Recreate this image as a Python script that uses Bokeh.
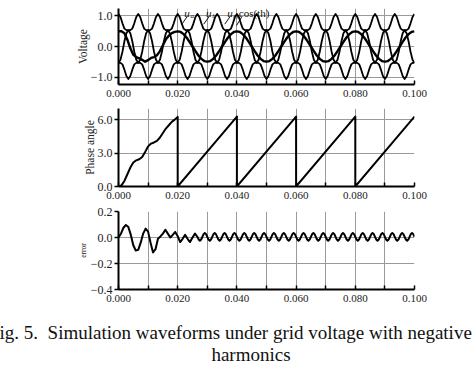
import numpy as np
from bokeh.plotting import figure
from bokeh.models import FixedTicker, Range1d, NumeralTickFormatter, Div, Title
from bokeh.layouts import column
from bokeh.embed import file_html
from bokeh.resources import INLINE
from bokeh.core.properties import value

FONT = "Liberation Serif"

# ---------------- data ----------------
x_major = [0.0, 0.02, 0.04, 0.06, 0.08, 0.10]
x_minor = [0.01, 0.03, 0.05, 0.07, 0.09]

# one period (0.02 s, 30 samples) of the distorted phase voltage u_a
u_period = [1.05, 0.955, 0.747, 0.578, 0.527, 0.525, 0.428, 0.169, -0.169, -0.428,
            -0.525, -0.527, -0.578, -0.747, -0.955, -1.05, -0.955, -0.747, -0.578, -0.527,
            -0.525, -0.428, -0.169, 0.169, 0.428, 0.525, 0.527, 0.578, 0.747, 0.955]
u_periods = 5
u_shift_b = 10   # samples (120 deg lag)
u_shift_c = 20   # samples (240 deg lag)

# cos(th): first (transient) period, 1 ms steps, then steady periods
cos_first = [0.49, 0.49, 0.43, 0.22, -0.06, -0.27, -0.34, -0.38, -0.43, -0.49,
             -0.44, -0.37, -0.34, -0.28, -0.15, 0.04, 0.23, 0.35, 0.43, 0.47]
cos_steady = [0.49, 0.47, 0.40, 0.29, 0.15, 0.0, -0.15, -0.29, -0.40, -0.47,
              -0.49, -0.47, -0.40, -0.29, -0.15, 0.0, 0.15, 0.29, 0.40, 0.47]
cos_steady_periods = 4

# phase angle breakpoints
phase_t = [0.000, 0.001, 0.002, 0.003, 0.004, 0.005, 0.006, 0.007, 0.008, 0.009,
           0.010, 0.011, 0.012, 0.013, 0.014, 0.015, 0.016, 0.017, 0.018, 0.019, 0.020,
           0.020, 0.040, 0.040, 0.060, 0.060, 0.080, 0.080, 0.100]
phase_v = [0.00, 0.10, 0.50, 1.10, 1.70, 2.15, 2.35, 2.45, 2.65, 3.10,
           3.60, 3.85, 3.95, 4.10, 4.40, 4.80, 5.20, 5.50, 5.80, 6.00, 6.25,
           0.00, 6.28, 0.00, 6.28, 0.00, 6.28, 0.00, 6.28]

# error: transient (1/1200 s steps, 32 samples) then steady 300 Hz ripple (8 samples/period)
err_first = [0.0, 0.03, 0.075, 0.096, 0.08, 0.02, -0.06, -0.10, -0.095, -0.04,
             0.03, 0.068, 0.045, -0.04, -0.115, -0.09, -0.01, 0.008, 0.03, 0.06,
             0.03, 0.0, 0.02, 0.043, 0.01, -0.035, -0.01, 0.02, -0.01, -0.035,
             0.0, 0.03]
err_steady = [0.005, -0.016, -0.025, -0.016, 0.005, 0.026, 0.035, 0.026]
err_steady_periods = 22
err_end = 0.005

# ---------------- build series ----------------
u_a_tile = u_period * u_periods
t_u = np.linspace(0, 0.1, len(u_a_tile) + 1)
u_a = u_a_tile + [u_a_tile[0]]
u_b = [u_a_tile[(k - u_shift_b) % len(u_period)] for k in range(len(u_a_tile) + 1)]
u_c = [u_a_tile[(k - u_shift_c) % len(u_period)] for k in range(len(u_a_tile) + 1)]

cos_v = cos_first + cos_steady * cos_steady_periods + [cos_steady[0]]
t_cos = np.linspace(0, 0.1, len(cos_v))

t_err_first = np.linspace(0, (len(err_first) - 1) / 1200, len(err_first))
err_tail = err_steady * err_steady_periods + [err_end]
t_err_tail = np.linspace(len(err_first) / 1200, 0.1, len(err_tail))
t_err = np.concatenate([t_err_first, t_err_tail])
err_v = err_first + err_tail


def style(p, yticks, ylabels, ygrid, ylabel, label_size, xgrid_ticks):
    p.outline_line_color = None
    p.background_fill_color = "white"
    p.border_fill_color = "white"
    xa = p.xaxis[0]
    xa.ticker = FixedTicker(ticks=x_major, minor_ticks=x_minor)
    xa.formatter = NumeralTickFormatter(format="0.000")
    xa.major_label_text_font = FONT
    xa.major_label_text_font_size = "11px"
    xa.major_label_text_color = "#222222"
    xa.major_tick_in = 4
    xa.major_tick_out = 0
    xa.minor_tick_in = 4
    xa.minor_tick_out = 0
    xa.major_label_standoff = 5
    xa.axis_line_width = 2
    xa.major_tick_line_width = 1.5
    xa.minor_tick_line_width = 1.5
    ya = p.yaxis[0]
    ya.ticker = FixedTicker(ticks=yticks)
    ya.major_label_overrides = ylabels
    ya.major_label_text_font = FONT
    ya.major_label_text_font_size = "12px"
    ya.major_label_text_color = "#222222"
    ya.major_tick_in = 0
    ya.major_tick_out = 4
    ya.minor_tick_line_color = None
    ya.major_label_standoff = 2
    ya.axis_line_width = 2
    ya.major_tick_line_width = 1.5
    if ylabel:
        ya.axis_label = ylabel
        ya.axis_label_text_font = FONT
        ya.axis_label_text_font_size = label_size
        ya.axis_label_text_font_style = "normal"
        ya.axis_label_text_color = "#222222"
        ya.axis_label_standoff = -1
    p.xgrid.ticker = FixedTicker(ticks=xgrid_ticks)
    p.ygrid.ticker = FixedTicker(ticks=ygrid)
    for g in (p.xgrid, p.ygrid):
        g.grid_line_color = "#9a9a9a"
        g.grid_line_width = 1


xgrid_all = sorted(x_major + x_minor)
W = 474

# ---------------- panel 1 ----------------
p1 = figure(width=W, height=105, output_backend="svg", toolbar_location=None,
            x_range=Range1d(0, 0.1), y_range=Range1d(-1.226, 1.226),
            min_border_left=118, min_border_right=60, min_border_top=8, min_border_bottom=21)
style(p1, [-1, 0, 1], {-1: "\u22121.0", 0: "0.0", 1: "1.0"}, [-1, 0, 1], "Voltage", "11.5px", xgrid_all)
for series in (u_a, u_b, u_c):
    p1.line(t_u, series, line_color="black", line_width=1.8, line_join="round")
p1.line(t_cos, cos_v, line_color="black", line_width=2.4, line_join="round")

# labels in panel 1
lab_u_x = [0.0222, 0.0296, 0.0367]
lab_sub_x = [0.0243, 0.0317, 0.0388]
lab_sub = ["a", "b", "c"]
lab_y = 1.08
lab_sub_y = 0.97
p1.text(x=lab_u_x, y=[lab_y] * 3, text=["u"] * 3, text_font=value(FONT),
        text_font_style="italic", text_font_size="11px", text_baseline="alphabetic",
        text_color="#111111")
p1.text(x=lab_sub_x, y=[lab_sub_y] * 3, text=lab_sub, text_font=value(FONT),
        text_font_style="italic", text_font_size="7px", text_baseline="alphabetic",
        text_color="#111111")
p1.text(x=[0.0397], y=[lab_y], text=[",cos(th)"], text_font=value(FONT),
        text_font_size="11px", text_baseline="alphabetic", text_color="#111111")
lead_x0 = [0.0231, 0.0305, 0.0376, 0.0416]
lead_x1 = [0.0214, 0.0288, 0.0359, 0.0399]
lead_y0 = [0.95, 0.95, 0.95, 0.95]
lead_y1 = [0.72, 0.72, 0.72, 0.68]
p1.segment(lead_x0, lead_y0, lead_x1, lead_y1, line_color="#111111", line_width=1)

# ---------------- panel 2 ----------------
p2 = figure(width=W, height=100, output_backend="svg", toolbar_location=None,
            x_range=Range1d(0, 0.1), y_range=Range1d(0, 7.0),
            min_border_left=118, min_border_right=60, min_border_top=3, min_border_bottom=19)
style(p2, [0, 3, 6], {0: "0.0", 3: "3.0", 6: "6.0"}, [3, 6], "Phase angle", "11.5px", xgrid_all)
p2.line(phase_t, phase_v, line_color="black", line_width=2, line_join="round")

# ---------------- panel 3 ----------------
p3 = figure(width=W, height=104, output_backend="svg", toolbar_location=None,
            x_range=Range1d(0, 0.1), y_range=Range1d(-0.4, 0.2),
            min_border_left=118, min_border_right=60, min_border_top=6, min_border_bottom=20)
style(p3, [-0.4, -0.2, 0, 0.2], {-0.4: "\u22120.4", -0.2: "\u22120.2", 0: "0.0", 0.2: "0.2"},
      [-0.2, 0, 0.2], None, None, xgrid_all)
p3.line(t_err, err_v, line_color="black", line_width=2, line_join="round")
p3.add_layout(Title(text="error", align="center", offset=13, standoff=0,
                    text_font=FONT, text_font_size="7.5px", text_font_style="normal",
                    text_color="#222222"), "left")

# ---------------- caption ----------------
caption_html = (
    '<div style="position:relative;width:474px;height:77px;overflow:hidden;'
    "font-family:'Liberation Serif',serif;font-size:19px;color:#111111;line-height:22px;\">"
    '<div style="position:absolute;left:-11px;top:13px;white-space:nowrap;">'
    'Fig. 5.&nbsp; Simulation waveforms under grid voltage with negative</div>'
    '<div style="position:absolute;left:0px;width:502px;top:35px;text-align:center;white-space:nowrap;">'
    'harmonics</div></div>'
)
cap = Div(text=caption_html, width=W, height=77, margin=0)

layout = column(p1, p2, p3, cap, spacing=0)
open("out.html", "w").write(file_html(layout, INLINE))
